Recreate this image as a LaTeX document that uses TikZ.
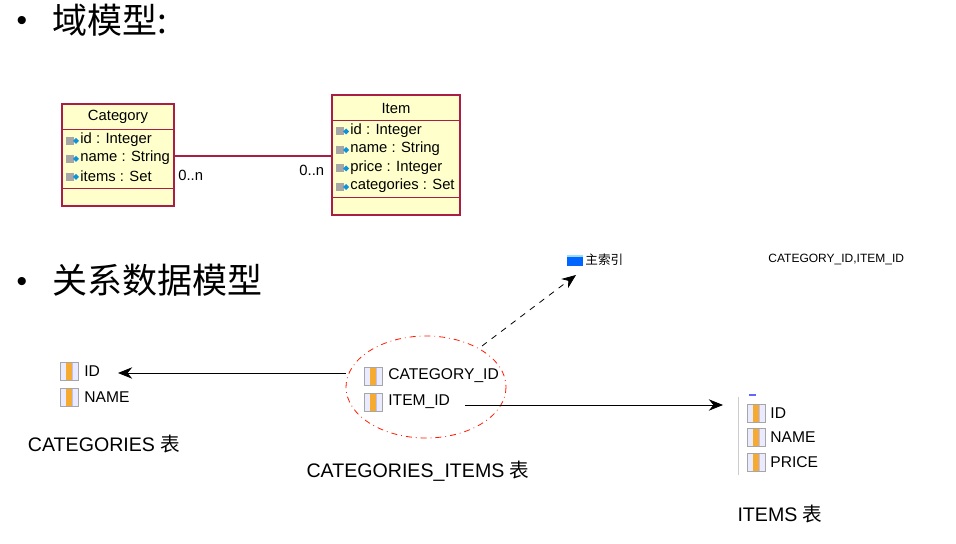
\documentclass[tikz,border=0pt]{standalone}
\usepackage{fontspec}
\setmainfont{Liberation Sans}
\newfontfamily\cjk{Noto Sans CJK SC}
\usetikzlibrary{arrows.meta}

\definecolor{umlred}{RGB}{170,30,70}
\definecolor{umlfill}{RGB}{255,255,204}
\definecolor{colorange}{RGB}{245,170,50}
\tikzset{
  uml/.style={draw=umlred, fill=umlfill, line width=0.6pt},
  umltxt/.style={anchor=west, font=\fontsize{7.4}{8}\selectfont, inner sep=0pt},
  coltxt/.style={anchor=west, font=\fontsize{7.8}{9}\selectfont, inner sep=0pt},
  caption/.style={font=\fontsize{9.8}{11}\selectfont, inner sep=0pt},
  title/.style={anchor=west, inner sep=0pt, font=\fontsize{17.5}{20}\selectfont},
  colicon/.pic={
    \fill[blue!8] (0,-9) rectangle (18,9);
    \draw[blue!25, step=6] (0,-9) grid (18,9);
    \fill[colorange] (6,-9) rectangle (12,9);
    \draw[gray!70] (0,-9) rectangle (18,9);
  },
  attricon/.pic={
    \fill[gray!70] (-6,-3) rectangle (2,5);
    \draw[gray!70, line width=0.5pt] (-5,-3) arc (180:0:3);
    \fill[cyan!80!blue] (4,-2) -- (7,1) -- (4,4) -- (1,1) -- cycle;
  }
}

\begin{document}
\begin{tikzpicture}[x=0.5pt, y=-0.5pt]
    \useasboundingbox (0,0) rectangle (956,544);

    % Domain model
    \node[inner sep=0pt, font=\fontsize{15}{18}\selectfont] (b1) at (22,24) {•};
    \node[title] (t1) at (52,20) {\cjk 域模型:};

    % Category class
    \draw[uml] (62,104) rectangle (174,206);
    \draw[umlred] (62,129) -- (174,129) (62,188) -- (174,188);
    \node[font=\fontsize{7.4}{8}\selectfont] (cat) at (118,117) {Category};
    \foreach \t [count=\i] in {id : Integer, name : String, items : Set} {
      \pic at (72,122+18*\i) {attricon};
      \node[umltxt] (cat\i) at (80,122+18*\i) {\t};
    }
    \coordinate (catR) at (174,156);

    % Item class
    \draw[uml] (332,95) rectangle (460,215);
    \draw[umlred] (332,120) -- (460,120) (332,197) -- (460,197);
    \node[font=\fontsize{7.4}{8}\selectfont] (item) at (396,108) {Item};
    \foreach \t [count=\i] in {id : Integer, name : String, price : Integer, categories : Set} {
      \pic at (342,112+18.5*\i) {attricon};
      \node[umltxt] (item\i) at (350,112+18.5*\i) {\t};
    }
    \coordinate (itemL) at (332,156);

    \draw[umlred, line width=0.6pt] (catR) -- (itemL);
    \node[umltxt] (m1) at (178,175) {0..n};
    \node[umltxt] (m2) at (299,170) {0..n};

    % Relational model
    \node[inner sep=0pt, font=\fontsize{15}{18}\selectfont] (b2) at (22,285) {•};
    \node[title] (t2) at (52,280) {\cjk 关系数据模型};

    % CATEGORIES
    \pic at (60,371) {colicon};
    \pic at (60,397) {colicon};
    \node[coltxt] (cid) at (84,371) {ID};
    \node[coltxt] (cname) at (84,397) {NAME};
    \node[caption] (ccap) at (104,444) {CATEGORIES {\cjk 表}};
    \coordinate (cidA) at (118,373);

    % CATEGORIES_ITEMS
    \draw[red!80!orange, dash dot, line width=0.4pt] (426,387) ellipse (80 and 51);
    \pic at (364,376) {colicon};
    \pic at (364,402) {colicon};
    \node[coltxt] (ciCat) at (388,376) {CATEGORY\_ID};
    \node[coltxt] (ciItem) at (388,402) {ITEM\_ID};
    \node[caption] (cicap) at (418,471) {CATEGORIES\_ITEMS {\cjk 表}};
    \coordinate (ellL) at (346,373);
    \coordinate (ellT) at (482,346);

    % primary key
    \fill[blue!60!cyan] (567,255) rectangle (583,266);
    \fill[cyan!40] (567,255) rectangle (583,257);
    \node[anchor=west, inner sep=0pt, font=\fontsize{6.3}{7}\selectfont] (pk) at (585,260) {\cjk 主索引};
    \coordinate (pkA) at (576,275);
    \node[anchor=west, inner sep=0pt, font=\fontsize{6}{7}\selectfont] (pkcols) at (768,260) {CATEGORY\_ID,ITEM\_ID};

    % ITEMS
    \draw[gray!40] (738,397) -- (738,475);
    \draw[blue!60, line width=0.8pt] (749,395) -- (756,395);
    \pic at (747,413) {colicon};
    \pic at (747,437) {colicon};
    \pic at (747,462) {colicon};
    \node[coltxt] (iid) at (770,413) {ID};
    \node[coltxt] (iname) at (770,437) {NAME};
    \node[coltxt] (iprice) at (770,462) {PRICE};
    \node[caption] (icap) at (780,514) {ITEMS {\cjk 表}};
    \coordinate (itemsA) at (723,405);
    \coordinate (ciItemE) at (465,405);

    % Arrows
    \draw[-{Stealth[length=2.5mm, width=2mm]}, line width=0.4pt] (ellL) -- (cidA);
    \draw[-{Stealth[length=2.5mm, width=2mm]}, line width=0.4pt] (ciItemE) -- (itemsA);
    \draw[-{Stealth[length=2.5mm, width=2mm]}, dashed, line width=0.4pt] (ellT) -- (pkA);
\end{tikzpicture}
\end{document}
